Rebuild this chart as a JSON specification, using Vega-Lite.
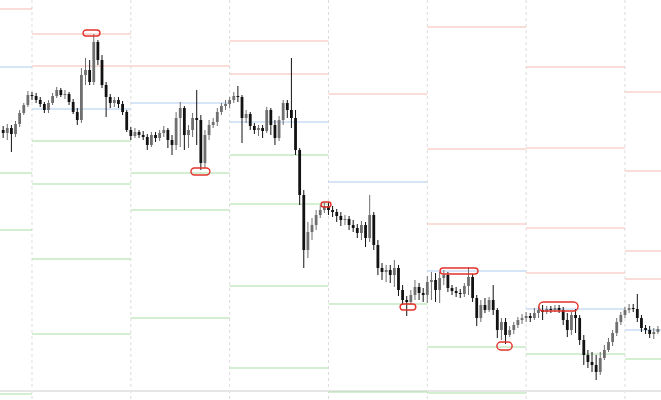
{
"$schema": "https://vega.github.io/schema/vega-lite/v6.json",
"width": 661, "height": 400, "padding": 0, "autosize": {"type": "none"},
"background": "white",
"config": {"view": {"stroke": null}},
"datasets": {
"days": [{"t":0},{"t":24},{"t":48},{"t":72},{"t":96},{"t":120},{"t":144}],
"levels": [
{"a":-24,"b":0,"lvl":1.1391,"kind":"R"},{"a":-24,"b":0,"lvl":1.1333,"kind":"P"},{"a":-24,"b":0,"lvl":1.1227,"kind":"S"},{"a":-24,"b":0,"lvl":1.117,"kind":"S"},{"a":-24,"b":0,"lvl":1.1006,"kind":"S"},
{"a":0,"b":24,"lvl":1.1366,"kind":"R"},{"a":0,"b":24,"lvl":1.1334,"kind":"R"},{"a":0,"b":24,"lvl":1.1291,"kind":"P"},{"a":0,"b":24,"lvl":1.1259,"kind":"S"},{"a":0,"b":24,"lvl":1.1216,"kind":"S"},{"a":0,"b":24,"lvl":1.1141,"kind":"S"},{"a":0,"b":24,"lvl":1.1066,"kind":"S"},
{"a":24,"b":48,"lvl":1.1334,"kind":"R"},{"a":24,"b":48,"lvl":1.1297,"kind":"P"},{"a":24,"b":48,"lvl":1.1227,"kind":"S"},{"a":24,"b":48,"lvl":1.119,"kind":"S"},{"a":24,"b":48,"lvl":1.1082,"kind":"S"},
{"a":48,"b":72,"lvl":1.1359,"kind":"R"},{"a":48,"b":72,"lvl":1.1326,"kind":"R"},{"a":48,"b":72,"lvl":1.1278,"kind":"P"},{"a":48,"b":72,"lvl":1.1245,"kind":"S"},{"a":48,"b":72,"lvl":1.1196,"kind":"S"},{"a":48,"b":72,"lvl":1.1114,"kind":"S"},{"a":48,"b":72,"lvl":1.1032,"kind":"S"},
{"a":72,"b":96,"lvl":1.1306,"kind":"R"},{"a":72,"b":96,"lvl":1.1218,"kind":"P"},{"a":72,"b":96,"lvl":1.1096,"kind":"S"},{"a":72,"b":96,"lvl":1.1008,"kind":"S"},
{"a":96,"b":120,"lvl":1.1373,"kind":"R"},{"a":96,"b":120,"lvl":1.1251,"kind":"R"},{"a":96,"b":120,"lvl":1.1176,"kind":"R"},{"a":96,"b":120,"lvl":1.1129,"kind":"P"},{"a":96,"b":120,"lvl":1.1053,"kind":"S"},{"a":96,"b":120,"lvl":1.1007,"kind":"S"},
{"a":120,"b":144,"lvl":1.1333,"kind":"R"},{"a":120,"b":144,"lvl":1.1252,"kind":"R"},{"a":120,"b":144,"lvl":1.1172,"kind":"R"},{"a":120,"b":144,"lvl":1.1127,"kind":"R"},{"a":120,"b":144,"lvl":1.1091,"kind":"P"},{"a":120,"b":144,"lvl":1.1046,"kind":"S"},
{"a":144,"b":168,"lvl":1.1308,"kind":"R"},{"a":144,"b":168,"lvl":1.1229,"kind":"R"},{"a":144,"b":168,"lvl":1.1149,"kind":"R"},{"a":144,"b":168,"lvl":1.1121,"kind":"R"},{"a":144,"b":168,"lvl":1.107,"kind":"P"},{"a":144,"b":168,"lvl":1.1041,"kind":"S"}
],
"rings": [
{"t1":12.4,"t2":16.5,"p1":1.1364,"p2":1.137},
{"t1":38.6,"t2":43.2,"p1":1.1225,"p2":1.1232},
{"t1":70.2,"t2":72.6,"p1":1.1193,"p2":1.1198},
{"t1":89.4,"t2":93.2,"p1":1.109,"p2":1.1096},
{"t1":99.1,"t2":108.3,"p1":1.1126,"p2":1.1132},
{"t1":112.9,"t2":116.6,"p1":1.105,"p2":1.1058},
{"t1":123.1,"t2":132.6,"p1":1.1089,"p2":1.1098}
],
"candles": [
{"t":-7,"o":1.127,"h":1.1274,"l":1.1262,"c":1.1267},
{"t":-6,"o":1.1267,"h":1.1276,"l":1.126,"c":1.1272},
{"t":-5,"o":1.1272,"h":1.1275,"l":1.1248,"c":1.1266},
{"t":-4,"o":1.1266,"h":1.1279,"l":1.1263,"c":1.1276},
{"t":-3,"o":1.1276,"h":1.129,"l":1.1273,"c":1.1287},
{"t":-2,"o":1.1287,"h":1.1297,"l":1.1285,"c":1.1295},
{"t":-1,"o":1.1295,"h":1.1309,"l":1.1293,"c":1.1305},
{"t":0,"o":1.1305,"h":1.1308,"l":1.13,"c":1.1304},
{"t":1,"o":1.1304,"h":1.1307,"l":1.1297,"c":1.13},
{"t":2,"o":1.13,"h":1.1303,"l":1.1293,"c":1.1296},
{"t":3,"o":1.1296,"h":1.1298,"l":1.1287,"c":1.129},
{"t":4,"o":1.129,"h":1.13,"l":1.1287,"c":1.1297},
{"t":5,"o":1.1297,"h":1.1307,"l":1.1295,"c":1.1304},
{"t":6,"o":1.1304,"h":1.1313,"l":1.1302,"c":1.131},
{"t":7,"o":1.131,"h":1.1312,"l":1.1303,"c":1.1305},
{"t":8,"o":1.1305,"h":1.131,"l":1.1301,"c":1.1306},
{"t":9,"o":1.1306,"h":1.1308,"l":1.1295,"c":1.1298},
{"t":10,"o":1.1298,"h":1.1301,"l":1.1286,"c":1.1288},
{"t":11,"o":1.1288,"h":1.1292,"l":1.1275,"c":1.128},
{"t":12,"o":1.128,"h":1.1332,"l":1.1277,"c":1.1325},
{"t":13,"o":1.1325,"h":1.1342,"l":1.1315,"c":1.133},
{"t":14,"o":1.133,"h":1.134,"l":1.1315,"c":1.1318},
{"t":15,"o":1.1318,"h":1.1366,"l":1.1315,"c":1.1358},
{"t":16,"o":1.1358,"h":1.136,"l":1.1335,"c":1.134},
{"t":17,"o":1.134,"h":1.1345,"l":1.1312,"c":1.1315},
{"t":18,"o":1.1315,"h":1.1318,"l":1.1283,"c":1.1303},
{"t":19,"o":1.1303,"h":1.1306,"l":1.1292,"c":1.1297},
{"t":20,"o":1.1297,"h":1.1303,"l":1.1293,"c":1.13},
{"t":21,"o":1.13,"h":1.1303,"l":1.1292,"c":1.1296},
{"t":22,"o":1.1296,"h":1.1299,"l":1.1285,"c":1.1288},
{"t":23,"o":1.1288,"h":1.129,"l":1.1268,"c":1.127},
{"t":24,"o":1.127,"h":1.1273,"l":1.126,"c":1.1264},
{"t":25,"o":1.1264,"h":1.1272,"l":1.1262,"c":1.1268},
{"t":26,"o":1.1268,"h":1.127,"l":1.1262,"c":1.1265},
{"t":27,"o":1.1265,"h":1.1269,"l":1.126,"c":1.1263},
{"t":28,"o":1.1263,"h":1.1266,"l":1.125,"c":1.1255},
{"t":29,"o":1.1255,"h":1.1268,"l":1.1253,"c":1.1265},
{"t":30,"o":1.1265,"h":1.1268,"l":1.1258,"c":1.1262},
{"t":31,"o":1.1262,"h":1.127,"l":1.1259,"c":1.1267},
{"t":32,"o":1.1267,"h":1.1274,"l":1.1263,"c":1.127},
{"t":33,"o":1.127,"h":1.1272,"l":1.1252,"c":1.126},
{"t":34,"o":1.126,"h":1.1265,"l":1.1245,"c":1.1255},
{"t":35,"o":1.1255,"h":1.1288,"l":1.125,"c":1.1282},
{"t":36,"o":1.1282,"h":1.1298,"l":1.1253,"c":1.1292},
{"t":37,"o":1.1292,"h":1.1294,"l":1.125,"c":1.1265},
{"t":38,"o":1.1265,"h":1.1275,"l":1.1252,"c":1.127},
{"t":39,"o":1.127,"h":1.1287,"l":1.1263,"c":1.1282},
{"t":40,"o":1.1282,"h":1.131,"l":1.1255,"c":1.128},
{"t":41,"o":1.128,"h":1.1285,"l":1.123,"c":1.1237},
{"t":42,"o":1.1237,"h":1.127,"l":1.1232,"c":1.1265},
{"t":43,"o":1.1265,"h":1.128,"l":1.126,"c":1.1275},
{"t":44,"o":1.1275,"h":1.1282,"l":1.1272,"c":1.1278},
{"t":45,"o":1.1278,"h":1.1292,"l":1.1274,"c":1.1288},
{"t":46,"o":1.1288,"h":1.1297,"l":1.1285,"c":1.1294},
{"t":47,"o":1.1294,"h":1.13,"l":1.129,"c":1.1296},
{"t":48,"o":1.1296,"h":1.1303,"l":1.1292,"c":1.13},
{"t":49,"o":1.13,"h":1.1308,"l":1.1297,"c":1.1304},
{"t":50,"o":1.1304,"h":1.1314,"l":1.1298,"c":1.1303},
{"t":51,"o":1.1303,"h":1.1305,"l":1.1257,"c":1.1282},
{"t":52,"o":1.1282,"h":1.129,"l":1.1277,"c":1.1286},
{"t":53,"o":1.1286,"h":1.1288,"l":1.127,"c":1.1274},
{"t":54,"o":1.1274,"h":1.1277,"l":1.1266,"c":1.127},
{"t":55,"o":1.127,"h":1.1275,"l":1.1264,"c":1.1272},
{"t":56,"o":1.1272,"h":1.1275,"l":1.1262,"c":1.1269},
{"t":57,"o":1.1269,"h":1.1293,"l":1.1267,"c":1.129},
{"t":58,"o":1.129,"h":1.1292,"l":1.1265,"c":1.1275},
{"t":59,"o":1.1275,"h":1.128,"l":1.1255,"c":1.1262},
{"t":60,"o":1.1262,"h":1.1284,"l":1.1259,"c":1.128},
{"t":61,"o":1.128,"h":1.13,"l":1.1275,"c":1.1297},
{"t":62,"o":1.1297,"h":1.13,"l":1.1282,"c":1.129},
{"t":63,"o":1.129,"h":1.1342,"l":1.1272,"c":1.1282},
{"t":64,"o":1.1282,"h":1.129,"l":1.1245,"c":1.125},
{"t":65,"o":1.125,"h":1.1252,"l":1.1195,"c":1.1205},
{"t":66,"o":1.1205,"h":1.121,"l":1.1132,"c":1.115},
{"t":67,"o":1.115,"h":1.1178,"l":1.1142,"c":1.1168},
{"t":68,"o":1.1168,"h":1.1182,"l":1.116,"c":1.1175},
{"t":69,"o":1.1175,"h":1.119,"l":1.117,"c":1.1185},
{"t":70,"o":1.1185,"h":1.1195,"l":1.1182,"c":1.119},
{"t":71,"o":1.119,"h":1.1198,"l":1.1187,"c":1.1194},
{"t":72,"o":1.1194,"h":1.1198,"l":1.1185,"c":1.119},
{"t":73,"o":1.119,"h":1.1194,"l":1.1183,"c":1.1188},
{"t":74,"o":1.1188,"h":1.1191,"l":1.1178,"c":1.1184},
{"t":75,"o":1.1184,"h":1.1188,"l":1.1174,"c":1.118},
{"t":76,"o":1.118,"h":1.1185,"l":1.1175,"c":1.1181},
{"t":77,"o":1.1181,"h":1.1184,"l":1.117,"c":1.1175},
{"t":78,"o":1.1175,"h":1.118,"l":1.1168,"c":1.1172},
{"t":79,"o":1.1172,"h":1.1176,"l":1.1162,"c":1.1167},
{"t":80,"o":1.1167,"h":1.1179,"l":1.116,"c":1.1175},
{"t":81,"o":1.1175,"h":1.1178,"l":1.1153,"c":1.1162},
{"t":82,"o":1.1162,"h":1.1205,"l":1.1158,"c":1.1185},
{"t":83,"o":1.1185,"h":1.1188,"l":1.115,"c":1.1155},
{"t":84,"o":1.1155,"h":1.116,"l":1.1125,"c":1.1132},
{"t":85,"o":1.1132,"h":1.1137,"l":1.112,"c":1.1128},
{"t":86,"o":1.1128,"h":1.1135,"l":1.1118,"c":1.113},
{"t":87,"o":1.113,"h":1.1135,"l":1.1117,"c":1.1125},
{"t":88,"o":1.1125,"h":1.114,"l":1.1113,"c":1.1132},
{"t":89,"o":1.1132,"h":1.1135,"l":1.1104,"c":1.111},
{"t":90,"o":1.111,"h":1.1115,"l":1.1095,"c":1.11},
{"t":91,"o":1.11,"h":1.1104,"l":1.1084,"c":1.1098},
{"t":92,"o":1.1098,"h":1.111,"l":1.1095,"c":1.1105},
{"t":93,"o":1.1105,"h":1.112,"l":1.11,"c":1.1113},
{"t":94,"o":1.1113,"h":1.1117,"l":1.11,"c":1.1107},
{"t":95,"o":1.1107,"h":1.1112,"l":1.1098,"c":1.1105},
{"t":96,"o":1.1105,"h":1.1124,"l":1.1097,"c":1.1118},
{"t":97,"o":1.1118,"h":1.1128,"l":1.11,"c":1.112},
{"t":98,"o":1.112,"h":1.1127,"l":1.1098,"c":1.111},
{"t":99,"o":1.111,"h":1.1128,"l":1.1097,"c":1.1122},
{"t":100,"o":1.1122,"h":1.113,"l":1.1115,"c":1.1125},
{"t":101,"o":1.1125,"h":1.1128,"l":1.1108,"c":1.1112},
{"t":102,"o":1.1112,"h":1.1115,"l":1.1105,"c":1.1109},
{"t":103,"o":1.1109,"h":1.1113,"l":1.1103,"c":1.1107},
{"t":104,"o":1.1107,"h":1.1111,"l":1.1102,"c":1.1106},
{"t":105,"o":1.1106,"h":1.1117,"l":1.1103,"c":1.1114},
{"t":106,"o":1.1114,"h":1.1133,"l":1.1105,"c":1.1123},
{"t":107,"o":1.1123,"h":1.1126,"l":1.1098,"c":1.1102},
{"t":108,"o":1.1102,"h":1.1105,"l":1.1074,"c":1.1082},
{"t":109,"o":1.1082,"h":1.11,"l":1.1078,"c":1.1095},
{"t":110,"o":1.1095,"h":1.1102,"l":1.1087,"c":1.109},
{"t":111,"o":1.109,"h":1.1103,"l":1.1088,"c":1.11},
{"t":112,"o":1.11,"h":1.1115,"l":1.1085,"c":1.109},
{"t":113,"o":1.109,"h":1.1092,"l":1.1062,"c":1.107},
{"t":114,"o":1.107,"h":1.1082,"l":1.106,"c":1.1078},
{"t":115,"o":1.1078,"h":1.1082,"l":1.1056,"c":1.1065},
{"t":116,"o":1.1065,"h":1.1074,"l":1.1063,"c":1.107},
{"t":117,"o":1.107,"h":1.1078,"l":1.1066,"c":1.1075},
{"t":118,"o":1.1075,"h":1.1083,"l":1.1072,"c":1.108},
{"t":119,"o":1.108,"h":1.1086,"l":1.1076,"c":1.1082},
{"t":120,"o":1.1082,"h":1.1088,"l":1.1078,"c":1.1084},
{"t":121,"o":1.1084,"h":1.1087,"l":1.1078,"c":1.1082},
{"t":122,"o":1.1082,"h":1.1092,"l":1.108,"c":1.1087},
{"t":123,"o":1.1087,"h":1.1094,"l":1.1082,"c":1.109},
{"t":124,"o":1.109,"h":1.1095,"l":1.108,"c":1.1088},
{"t":125,"o":1.1088,"h":1.1094,"l":1.1086,"c":1.1091},
{"t":126,"o":1.1091,"h":1.1094,"l":1.1087,"c":1.109},
{"t":127,"o":1.109,"h":1.1095,"l":1.1088,"c":1.1092},
{"t":128,"o":1.1092,"h":1.1095,"l":1.1087,"c":1.109},
{"t":129,"o":1.109,"h":1.1093,"l":1.1075,"c":1.108},
{"t":130,"o":1.108,"h":1.1087,"l":1.1063,"c":1.107},
{"t":131,"o":1.107,"h":1.1088,"l":1.1065,"c":1.1085},
{"t":132,"o":1.1085,"h":1.1091,"l":1.1067,"c":1.1082},
{"t":133,"o":1.1082,"h":1.1085,"l":1.1055,"c":1.106},
{"t":134,"o":1.106,"h":1.1065,"l":1.1035,"c":1.1045},
{"t":135,"o":1.1045,"h":1.105,"l":1.1032,"c":1.1038},
{"t":136,"o":1.1038,"h":1.1048,"l":1.1028,"c":1.1035},
{"t":137,"o":1.1035,"h":1.1045,"l":1.102,"c":1.1028},
{"t":138,"o":1.1028,"h":1.1048,"l":1.1025,"c":1.1042},
{"t":139,"o":1.1042,"h":1.1055,"l":1.104,"c":1.105},
{"t":140,"o":1.105,"h":1.1062,"l":1.1048,"c":1.1058},
{"t":141,"o":1.1058,"h":1.107,"l":1.1054,"c":1.1067},
{"t":142,"o":1.1067,"h":1.1082,"l":1.1064,"c":1.1078},
{"t":143,"o":1.1078,"h":1.1088,"l":1.1075,"c":1.1085},
{"t":144,"o":1.1085,"h":1.1093,"l":1.1082,"c":1.109},
{"t":145,"o":1.109,"h":1.1096,"l":1.1087,"c":1.1092},
{"t":146,"o":1.1092,"h":1.1096,"l":1.1088,"c":1.1091},
{"t":147,"o":1.1091,"h":1.1106,"l":1.1078,"c":1.1082},
{"t":148,"o":1.1082,"h":1.1085,"l":1.1068,"c":1.1072},
{"t":149,"o":1.1072,"h":1.1075,"l":1.1066,"c":1.107},
{"t":150,"o":1.107,"h":1.1074,"l":1.1062,"c":1.1066},
{"t":151,"o":1.1066,"h":1.1072,"l":1.1061,"c":1.1068},
{"t":152,"o":1.1068,"h":1.1074,"l":1.1066,"c":1.1071}
]
},
"layer": [
{"data": {"name": "days"},
 "mark": {"type": "rule", "color": "#dcdcdc", "strokeDash": [3, 3], "strokeWidth": 1},
 "encoding": {"x": {"field": "t", "type": "quantitative", "scale": {"domain": [-7.77, 152.75], "nice": false, "zero": false}, "axis": null}}},
{"data": {"values": [{"lvl": 1.1009}]},
 "mark": {"type": "rule", "color": "#e6e6e6", "strokeWidth": 2},
 "encoding": {"y": {"field": "lvl", "type": "quantitative", "scale": {"domain": [1.1, 1.14], "nice": false, "zero": false}, "axis": null}}},
{"data": {"name": "levels"},
 "mark": {"type": "rule", "strokeWidth": 1.2, "clip": true},
 "encoding": {
  "x": {"field": "a", "type": "quantitative", "scale": {"domain": [-7.77, 152.75], "nice": false, "zero": false}, "axis": null},
  "x2": {"field": "b"},
  "y": {"field": "lvl", "type": "quantitative", "scale": {"domain": [1.1, 1.14], "nice": false, "zero": false}, "axis": null},
  "color": {"field": "kind", "type": "nominal", "scale": {"domain": ["R", "P", "S"], "range": ["#f7bbb2", "#aecbef", "#aadea5"]}, "legend": null}}},
{"data": {"name": "candles"},
 "mark": {"type": "rule", "strokeWidth": 1},
 "encoding": {
  "x": {"field": "t", "type": "quantitative", "scale": {"domain": [-7.77, 152.75], "nice": false, "zero": false}, "axis": null},
  "y": {"field": "l", "type": "quantitative", "scale": {"domain": [1.1, 1.14], "nice": false, "zero": false}, "axis": null},
  "y2": {"field": "h"},
  "color": {"condition": {"test": "datum.c > datum.o", "value": "#6f6f6f"}, "value": "#121212"}}},
{"data": {"name": "candles"},
 "mark": {"type": "rule", "strokeWidth": 2.8},
 "encoding": {
  "x": {"field": "t", "type": "quantitative", "scale": {"domain": [-7.77, 152.75], "nice": false, "zero": false}, "axis": null},
  "y": {"field": "o", "type": "quantitative", "scale": {"domain": [1.1, 1.14], "nice": false, "zero": false}, "axis": null},
  "y2": {"field": "c"},
  "color": {"condition": {"test": "datum.c > datum.o", "value": "#6f6f6f"}, "value": "#121212"}}},
{"data": {"name": "rings"},
 "mark": {"type": "rect", "filled": false, "stroke": "#e3322b", "strokeWidth": 1.4, "cornerRadius": 20},
 "encoding": {
  "x": {"field": "t1", "type": "quantitative", "scale": {"domain": [-7.77, 152.75], "nice": false, "zero": false}, "axis": null},
  "x2": {"field": "t2"},
  "y": {"field": "p1", "type": "quantitative", "scale": {"domain": [1.1, 1.14], "nice": false, "zero": false}, "axis": null},
  "y2": {"field": "p2"}}}
]
}
